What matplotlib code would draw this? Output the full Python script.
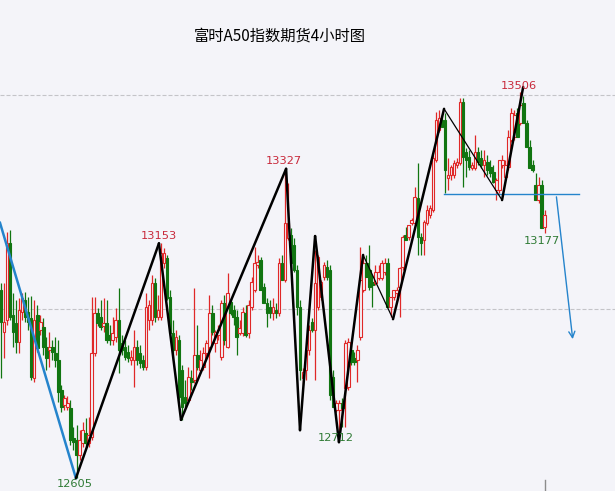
import numpy as np
import matplotlib.pyplot as plt
from matplotlib.patches import Rectangle

plt.rcParams['font.family'] = ['DejaVu Sans']

# 4h candles (price)
opens = [13044, 12946, 12974, 13154, 12986, 12967, 12923, 12993, 13021, 12993,
         12979, 12839, 12986, 12951, 12958, 12911, 12904, 12911, 12897, 12881,
         12811, 12776, 12771, 12769, 12699, 12694, 12659, 12687, 12710, 12687,
         12701, 12897, 12990, 12981, 12960, 12967, 12939, 12927, 12934, 12974,
         12920, 12911, 12899, 12881, 12881, 12911, 12897, 12881, 12864, 12974,
         12974, 13061, 12981, 12981, 13107, 13119, 13028, 12944, 12904, 12927,
         12857, 12794, 12787, 12839, 12834, 12892, 12857, 12864, 12897, 12911,
         12990, 12920, 12939, 12888, 13014, 12911, 13016, 12997, 12981, 12944,
         12944, 12990, 12944, 13004, 13044, 13103, 13114, 13051, 13014, 13004,
         12990, 12997, 12990, 13107, 13068, 13166, 13173, 13149, 13091, 13004,
         12839, 12857, 12904, 12969, 12951, 13004, 13028, 13075, 13098, 13091,
         12841, 12764, 12764, 12780, 12815, 12818, 12904, 12885, 12881, 12934,
         13044, 13107, 13091, 13063, 13061, 13072, 13072, 13086, 13107, 13004,
         13028, 13037, 13051, 13098, 13173, 13168, 13201, 13201, 13259, 13168,
         13161, 13201, 13219, 13231, 13348, 13418, 13441, 13441, 13306, 13313,
         13313, 13336, 13341, 13483, 13366, 13355, 13329, 13329, 13366, 13352,
         13336, 13343, 13331, 13320, 13278, 13278, 13336, 13308, 13331, 13394,
         13401, 13457, 13434, 13481, 13434, 13378, 13336, 13289, 13254, 13289, 13191]
highs = [13061, 13061, 13180, 13184, 13037, 13021, 13025, 13037, 13040, 13028,
         13030, 13021, 13009, 12986, 12979, 12934, 12946, 12927, 12934, 12927,
         12822, 12799, 12797, 12787, 12724, 12729, 12717, 12736, 12745, 12748,
         13028, 13028, 13002, 13021, 13025, 13021, 12962, 12981, 13002, 13049,
         12939, 12927, 12916, 12904, 12951, 12927, 12916, 12892, 13037, 13021,
         13079, 13072, 13033, 13153, 13142, 13126, 13044, 12974, 12951, 12939,
         12869, 12834, 12864, 12857, 13049, 12962, 12904, 12911, 12927, 13033,
         13009, 12951, 12962, 13021, 13033, 13084, 13025, 13009, 12997, 12974,
         13004, 13009, 13021, 13075, 13145, 13126, 13121, 13061, 13025, 13021,
         13025, 13014, 13119, 13126, 13327, 13294, 13189, 13166, 13103, 13021,
         12862, 12911, 12962, 12979, 13138, 13126, 13068, 13110, 13114, 13103,
         12857, 12787, 12787, 12792, 12927, 12932, 12916, 12899, 12916, 13145,
         13126, 13126, 13149, 13079, 13103, 13103, 13114, 13119, 13119, 13028,
         13044, 13051, 13098, 13173, 13191, 13196, 13212, 13285, 13341, 13177,
         13208, 13243, 13243, 13359, 13460, 13464, 13453, 13457, 13352, 13336,
         13348, 13352, 13492, 13492, 13376, 13371, 13343, 13406, 13378, 13371,
         13371, 13359, 13348, 13336, 13306, 13313, 13359, 13348, 13418, 13469,
         13464, 13469, 13506, 13497, 13441, 13394, 13348, 13317, 13308, 13301, 13231]
lows = [12839, 12885, 12962, 12974, 12911, 12897, 12897, 12974, 12969, 12951,
        12834, 12829, 12899, 12939, 12892, 12857, 12864, 12881, 12864, 12783,
        12759, 12764, 12764, 12682, 12671, 12605, 12647, 12678, 12678, 12678,
        12694, 12890, 12960, 12951, 12946, 12920, 12916, 12916, 12923, 12850,
        12892, 12881, 12876, 12869, 12818, 12869, 12862, 12857, 12857, 12951,
        12962, 12969, 12974, 12974, 13096, 13021, 12939, 12881, 12892, 12787,
        12741, 12771, 12780, 12811, 12827, 12857, 12850, 12857, 12890, 12839,
        12939, 12899, 12927, 12881, 12916, 12909, 12986, 12962, 12892, 12939,
        12937, 12934, 12932, 12997, 13040, 13096, 13044, 13014, 12958, 12979,
        12974, 12979, 12983, 13068, 13063, 13161, 13103, 13086, 12986, 12834,
        12822, 12834, 12892, 12946, 12834, 12997, 13021, 13068, 13068, 12787,
        12771, 12759, 12712, 12724, 12724, 12811, 12869, 12869, 12829, 12927,
        13040, 13075, 13044, 13004, 13056, 13068, 13068, 13079, 13004, 12981,
        13021, 13025, 12981, 13091, 13161, 13161, 13196, 13196, 13126, 13126,
        13126, 13196, 13212, 13226, 13343, 13413, 13425, 13271, 13278, 13301,
        13306, 13329, 13336, 13285, 13308, 13324, 13324, 13324, 13336, 13329,
        13308, 13313, 13308, 13294, 13254, 13271, 13329, 13301, 13324, 13390,
        13394, 13401, 13429, 13434, 13378, 13329, 13320, 13254, 13247, 13189, 13177]
closes = [12969, 12969, 13154, 12981, 12946, 12923, 12997, 13025, 12981, 12969,
          12841, 12974, 12909, 12969, 12911, 12885, 12911, 12899, 12881, 12806,
          12771, 12792, 12780, 12694, 12689, 12659, 12694, 12717, 12687, 12706,
          12897, 12990, 12967, 12958, 12967, 12927, 12927, 12944, 12974, 12904,
          12904, 12888, 12885, 12888, 12911, 12881, 12874, 12864, 13004, 13009,
          13061, 12981, 12997, 13131, 13131, 13025, 12944, 12904, 12934, 12794,
          12771, 12780, 12841, 12829, 12892, 12864, 12881, 12897, 12920, 12990,
          12946, 12946, 12951, 13014, 12927, 13037, 12990, 12981, 12934, 12955,
          12993, 12939, 13009, 13063, 13107, 13110, 13044, 13014, 12990, 12990,
          13004, 12990, 13107, 13068, 13201, 13201, 13107, 13091, 13004, 12857,
          12853, 12904, 12951, 12951, 13061, 13121, 13063, 13103, 13075, 12799,
          12771, 12780, 12780, 12769, 12920, 12923, 12876, 12876, 12904, 13068,
          13107, 13075, 13051, 13056, 13086, 13086, 13107, 13107, 13004, 13028,
          13044, 13044, 13096, 13168, 13161, 13196, 13208, 13261, 13168, 13154,
          13203, 13231, 13236, 13352, 13441, 13446, 13425, 13324, 13313, 13331,
          13341, 13343, 13483, 13355, 13348, 13331, 13336, 13366, 13343, 13336,
          13348, 13324, 13317, 13296, 13301, 13348, 13348, 13336, 13401, 13457,
          13453, 13401, 13476, 13434, 13378, 13329, 13324, 13254, 13289, 13189, 13219]

# zigzag swing points (bar index, price)
zz_idx = [24.8, 52.3, 59.6, 94.4, 99.0, 104.0, 111.9, 119.9, 129.8, 146.7, 165.9, 172.9]
zz_price = [12605, 13153, 12741, 13327, 12717, 13170, 12689, 13126, 12976, 13467, 13254, 13518]

# blue down trend line, neckline and projected move
trend_idx = [-0.33, 24.8]
trend_price = [13201, 12605]
neck_idx = [146.7, 191.4]
neck_price = 13268
arrow_idx = [183.8, 189.4]
arrow_price = [13268, 12923]

grid_levels = [13000, 13500]

# swing labels: bar index, price, text
red_labels = [(52.3, 13170, '13153'), (93.7, 13345, '13327'), (171.5, 13520, '13506')]
green_labels = [(24.5, 12591, '12605'), (110.9, 12699, '12712'), (179.1, 13159, '13177')]

bg = '#F4F4F9'
up_col = '#E02828'
dn_col = '#117511'
blue = '#2584CC'

fig = plt.figure(figsize=(6.15, 4.91), dpi=100, facecolor=bg)
ax = fig.add_axes([0, 0, 1, 1])
ax.set_xlim(-0.33, 203.3)
ax.set_ylim(12575, 13721)
ax.axis('off')

for lv in grid_levels:
    ax.axhline(lv, color='#C4C4C8', lw=0.8, ls=(0, (3.6, 1.8)), zorder=1)

for i, (o, h, l, c) in enumerate(zip(opens, highs, lows, closes)):
    up = c >= o
    col = up_col if up else dn_col
    ax.vlines(i, l, h, color=col, lw=0.9, zorder=2)
    ax.add_patch(Rectangle((i - 0.42, min(o, c)), 0.84, max(abs(c - o), 1.5),
                           facecolor=bg if up else col, edgecolor=col, lw=0.8, zorder=3))

# zigzag, two legs drawn thin
for k in range(len(zz_idx) - 1):
    lw = 0.9 if k in (7, 9) else 1.8
    ax.plot(zz_idx[k:k + 2], zz_price[k:k + 2], color='black', lw=lw,
            solid_capstyle='round', zorder=5)

ax.plot(trend_idx, trend_price, color=blue, lw=1.8, zorder=4)
ax.plot(neck_idx, [neck_price, neck_price], color=blue, lw=1.0, zorder=4)
ax.annotate('', xy=(arrow_idx[1], arrow_price[1]), xytext=(arrow_idx[0], arrow_price[0]),
            arrowprops=dict(arrowstyle='->', color=blue, lw=1.0, mutation_scale=11))

for x, y, s in red_labels:
    ax.text(x, y, s, color='#C8283A', fontsize=8.2, ha='center', va='center', zorder=6)
for x, y, s in green_labels:
    ax.text(x, y, s, color='#2E7A34', fontsize=8.2, ha='center', va='center', zorder=6)

# small marker under the last bar
ax.axvline(len(opens) - 1, ymin=0, ymax=11 / 491, color='#8C8C8C', lw=1)

fig.text(280 / 615, 1 - 36 / 491, '富时A50指数期货4小时图', fontsize=11,
         family=['Noto Sans CJK SC', 'DejaVu Sans'], ha='center', va='center')

fig.savefig('out.png', dpi=100, facecolor=bg)
